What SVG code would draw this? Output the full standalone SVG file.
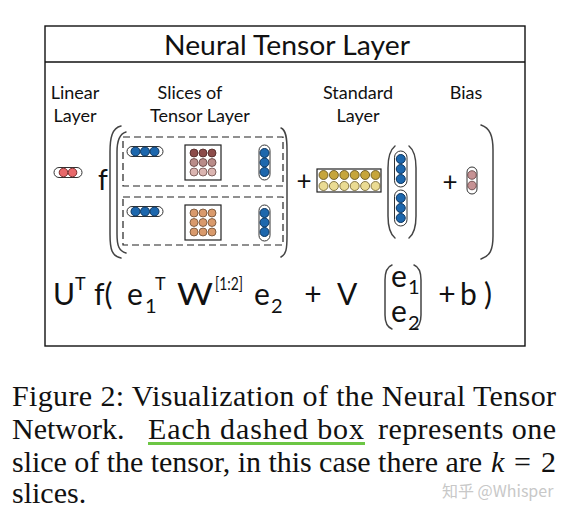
<svg xmlns="http://www.w3.org/2000/svg" width="574" height="515" viewBox="0 0 574 515">
<style>
.frame{fill:none;stroke:#111;stroke-width:1.4}
.paren{fill:none;stroke:#444;stroke-width:1.5;stroke-linecap:round}
.dash{fill:none;stroke:#222;stroke-width:1.2;stroke-dasharray:7 4}
.pill{fill:#fff;stroke:#333;stroke-width:1}
.box{fill:#fff;stroke:#222;stroke-width:1.2}
.blue{fill:#1d67ad;stroke:#0c355f;stroke-width:1}
.red{fill:#e8696b;stroke:#7a2b2b;stroke-width:1}
.m1a{fill:#8c4c4a;stroke:#4a2422;stroke-width:0.8}
.m1b{fill:#b98c89;stroke:#5a3a38;stroke-width:0.8}
.m1c{fill:#dbb5b1;stroke:#6a4a48;stroke-width:0.8}
.m2{fill:#d99a6c;stroke:#6a4a30;stroke-width:0.8}
.g1{fill:#c6a53c;stroke:#5a4a18;stroke-width:0.8}
.g2{fill:#eadb93;stroke:#6a5a28;stroke-width:0.8}
.bias{fill:#c69294;stroke:#5a3a3a;stroke-width:0.8}
.sans{font-family:Lato,"Liberation Sans",sans-serif;fill:#111}
.lbl{font-family:Lato,"Liberation Sans",sans-serif;font-size:18px;fill:#111;text-anchor:middle}
.eq{font-family:Lato,"Liberation Sans",sans-serif;font-size:30px;fill:#111}
.sup{font-family:Lato,"Liberation Sans",sans-serif;font-size:18px;fill:#111}
.sub{font-family:Lato,"Liberation Sans",sans-serif;font-size:20px;fill:#111}
.cap{font-family:"Liberation Serif","Times New Roman",serif;font-size:30px;fill:#111}
</style>

<g id="frame">
<rect class="frame" x="45" y="26" width="480" height="320"/>
<line class="frame" x1="45" y1="62" x2="525" y2="62"/>
<text class="sans" x="164" y="55" font-size="26" textLength="246" lengthAdjust="spacingAndGlyphs">Neural Tensor Layer</text>
</g>

<g id="labels">
<text class="lbl" x="75" y="99">Linear</text>
<text class="lbl" x="75" y="122">Layer</text>
<text class="lbl" x="190" y="99">Slices of</text>
<text class="lbl" x="200" y="122">Tensor Layer</text>
<text class="lbl" x="358" y="99">Standard</text>
<text class="lbl" x="358" y="122">Layer</text>
<text class="lbl" x="466" y="99">Bias</text>
</g>

<g id="linear-layer">
<rect class="pill" x="54" y="167.5" width="28" height="10" rx="5"/>
<circle class="red" cx="63.5" cy="172.5" r="4.3"/>
<circle class="red" cx="72.5" cy="172.5" r="4.3"/>
</g>

<text class="sans" x="98" y="190" font-size="28">f</text>

<g id="brackets">
<path class="paren" d="M121 126 C112 128 110 138 110 152 L110 234 C110 250 112 256 121 258"/>
<path class="paren" d="M126 132 C119 134 117 142 117 152 L117 234 C117 246 119 251 126 253"/>
<path class="paren" d="M281 128 C286 130 287 138 287 150 L287 236 C287 250 286 254 281 257"/>
<path class="paren" d="M481 125 C490 128 493 136 493 150 L493 236 C493 250 490 256 481 259"/>
</g>

<g id="slice-1">
<rect class="dash" x="123" y="137" width="160" height="49"/>
<rect class="pill" x="127" y="146.5" width="36" height="10" rx="5"/>
<circle class="blue" cx="135.5" cy="151.5" r="4.5"/>
<circle class="blue" cx="145" cy="151.5" r="4.5"/>
<circle class="blue" cx="154.5" cy="151.5" r="4.5"/>
<rect class="box" x="185" y="145" width="36" height="35"/>
<circle class="m1a" cx="194" cy="153" r="4"/>
<circle class="m1a" cx="203" cy="153" r="4"/>
<circle class="m1a" cx="212" cy="153" r="4"/>
<circle class="m1b" cx="194" cy="162.5" r="4"/>
<circle class="m1b" cx="203" cy="162.5" r="4"/>
<circle class="m1b" cx="212" cy="162.5" r="4"/>
<circle class="m1c" cx="194" cy="172" r="4"/>
<circle class="m1c" cx="203" cy="172" r="4"/>
<circle class="m1c" cx="212" cy="172" r="4"/>
<rect class="pill" x="259" y="145" width="11" height="35" rx="5.5"/>
<circle class="blue" cx="264.5" cy="153" r="4.5"/>
<circle class="blue" cx="264.5" cy="162.5" r="4.5"/>
<circle class="blue" cx="264.5" cy="172" r="4.5"/>
</g>

<g id="slice-2">
<rect class="dash" x="123" y="197" width="160" height="48"/>
<rect class="pill" x="127" y="206.5" width="36" height="10" rx="5"/>
<circle class="blue" cx="135.5" cy="211.5" r="4.5"/>
<circle class="blue" cx="145" cy="211.5" r="4.5"/>
<circle class="blue" cx="154.5" cy="211.5" r="4.5"/>
<rect class="box" x="185" y="205" width="36" height="35"/>
<circle class="m2" cx="194" cy="213" r="4"/>
<circle class="m2" cx="203" cy="213" r="4"/>
<circle class="m2" cx="212" cy="213" r="4"/>
<circle class="m2" cx="194" cy="222.5" r="4"/>
<circle class="m2" cx="203" cy="222.5" r="4"/>
<circle class="m2" cx="212" cy="222.5" r="4"/>
<circle class="m2" cx="194" cy="232" r="4"/>
<circle class="m2" cx="203" cy="232" r="4"/>
<circle class="m2" cx="212" cy="232" r="4"/>
<rect class="pill" x="259" y="205" width="11" height="36" rx="5.5"/>
<circle class="blue" cx="264.5" cy="213" r="4.5"/>
<circle class="blue" cx="264.5" cy="222.5" r="4.5"/>
<circle class="blue" cx="264.5" cy="232" r="4.5"/>
</g>

<text class="sans" x="304" y="190" font-size="26" text-anchor="middle">+</text>

<g id="standard-layer">
<rect class="box" x="317" y="169" width="64" height="23"/>
<circle class="g1" cx="323.5" cy="175" r="4.5"/>
<circle class="g1" cx="333.9" cy="175" r="4.5"/>
<circle class="g1" cx="344.3" cy="175" r="4.5"/>
<circle class="g1" cx="354.7" cy="175" r="4.5"/>
<circle class="g1" cx="365.1" cy="175" r="4.5"/>
<circle class="g1" cx="375.5" cy="175" r="4.5"/>
<circle class="g2" cx="323.5" cy="186" r="4.5"/>
<circle class="g2" cx="333.9" cy="186" r="4.5"/>
<circle class="g2" cx="344.3" cy="186" r="4.5"/>
<circle class="g2" cx="354.7" cy="186" r="4.5"/>
<circle class="g2" cx="365.1" cy="186" r="4.5"/>
<circle class="g2" cx="375.5" cy="186" r="4.5"/>
</g>

<g id="concat-vector">
<path class="paren" d="M395 146 C390 150 388 158 388 168 L388 216 C388 228 390 234 395 238"/>
<path class="paren" d="M409 146 C414 150 416 158 416 168 L416 216 C416 228 414 234 409 238"/>
<rect class="pill" x="394.5" y="151" width="12.5" height="36" rx="6.25"/>
<circle class="blue" cx="400.75" cy="159" r="4.5"/>
<circle class="blue" cx="400.75" cy="169" r="4.5"/>
<circle class="blue" cx="400.75" cy="179" r="4.5"/>
<rect class="pill" x="394.5" y="190" width="12.5" height="36" rx="6.25"/>
<circle class="blue" cx="400.75" cy="198" r="4.5"/>
<circle class="blue" cx="400.75" cy="208" r="4.5"/>
<circle class="blue" cx="400.75" cy="218" r="4.5"/>
</g>

<text class="sans" x="450" y="191" font-size="26" text-anchor="middle">+</text>

<g id="bias">
<rect class="pill" x="467" y="167" width="10" height="27" rx="5"/>
<circle class="bias" cx="472" cy="175" r="4.3"/>
<circle class="bias" cx="472" cy="185.5" r="4.3"/>
</g>

<g id="equation">
<text class="eq" x="53" y="305">U</text>
<text class="sup" x="75" y="290">T</text>
<text class="eq" x="94" y="305">f(</text>
<text class="eq" x="127" y="305">e</text>
<text class="sub" x="145" y="313">1</text>
<text class="sup" x="155" y="290">T</text>
<text class="eq" x="177" y="305" textLength="36" lengthAdjust="spacingAndGlyphs">W</text>
<text class="sup" x="215" y="290" textLength="28" lengthAdjust="spacingAndGlyphs">[1:2]</text>
<text class="eq" x="254" y="305">e</text>
<text class="sub" x="271" y="313">2</text>
<text class="eq" x="313" y="305" text-anchor="middle">+</text>
<text class="eq" x="337" y="305">V</text>
<path class="paren" d="M392 265 C387 267 385 272 385 280 L385 315 C385 323 387 327 392 329"/>
<path class="paren" d="M414 265 C419 267 421 272 421 280 L421 315 C421 323 419 327 414 329"/>
<text class="eq" x="391" y="287">e</text>
<text class="sub" x="408" y="294">1</text>
<text class="eq" x="391" y="322">e</text>
<text class="sub" x="408" y="330">2</text>
<text class="eq" x="447" y="305" text-anchor="middle">+</text>
<text class="eq" x="460" y="305">b</text>
<text class="eq" x="484" y="305">)</text>
</g>

<g id="caption">
<text class="cap" x="12" y="406" textLength="544" lengthAdjust="spacing">Figure 2: Visualization of the Neural Tensor</text>
<text class="cap" x="12" y="439">Network.</text>
<text class="cap" x="148" y="439" textLength="216" lengthAdjust="spacing">Each dashed box</text>
<text class="cap" x="378" y="439" textLength="178" lengthAdjust="spacing">represents one</text>
<line x1="148" y1="443.5" x2="365" y2="443.5" stroke="#6cc644" stroke-width="3"/>
<text class="cap" x="12" y="472" textLength="470" lengthAdjust="spacing">slice of the tensor, in this case there are</text>
<text class="cap" x="491" y="472" font-style="italic">k</text>
<text class="cap" x="514" y="472">=</text>
<text class="cap" x="541" y="472">2</text>
<text class="cap" x="12" y="503">slices.</text>
<text x="442" y="497" font-family="'Noto Sans CJK SC','Noto Sans',sans-serif" font-size="16" fill="#c8c8c8">知乎 @Whisper</text>
</g>
</svg>
